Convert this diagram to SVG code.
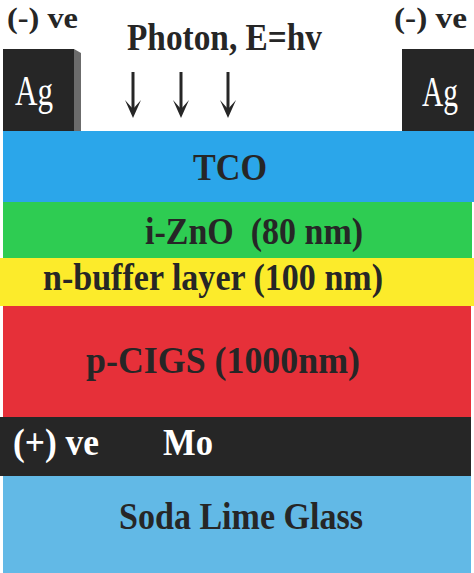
<svg xmlns="http://www.w3.org/2000/svg" width="474" height="573" viewBox="0 0 474 573">
<style>
.t{font-family:"Liberation Serif","Times New Roman",serif;font-weight:bold;font-size:38px;fill:#262626;white-space:pre}
.s{font-size:30px}
.w{fill:#ffffff}
.ag{font-family:"Liberation Serif","Times New Roman",serif;font-size:42px;fill:#ffffff}
.arr{stroke:#262626;stroke-width:3;fill:none}
.head{fill:#262626}
</style>
<rect width="474" height="573" fill="#ffffff"/>
<g id="glass"><rect x="3" y="476" width="468" height="97" fill="#62B9E6"/>
<text class="t" x="119" y="529" textLength="244" lengthAdjust="spacingAndGlyphs">Soda Lime Glass</text></g>
<g id="mo"><rect x="0" y="417" width="471" height="59" fill="#262626"/>
<text class="t w" x="13" y="455" textLength="86" lengthAdjust="spacingAndGlyphs">(+) ve</text>
<text class="t w" x="163" y="455" textLength="50" lengthAdjust="spacingAndGlyphs">Mo</text></g>
<g id="cigs"><rect x="3" y="306" width="468" height="111" fill="#E63039"/>
<text class="t" x="86" y="373" textLength="274" lengthAdjust="spacingAndGlyphs">p-CIGS (1000nm)</text></g>
<g id="buffer"><rect x="0" y="258" width="474" height="48" fill="#FCEB2B"/>
<text class="t" x="43" y="290" textLength="340" lengthAdjust="spacingAndGlyphs">n-buffer layer (100 nm)</text></g>
<g id="izno"><rect x="3" y="202" width="469" height="56" fill="#2ECC52"/>
<text class="t" x="145" y="244" textLength="218" lengthAdjust="spacingAndGlyphs">i-ZnO  (80 nm)</text></g>
<g id="tco"><rect x="3" y="131" width="471" height="71" fill="#2BA6EA"/>
<text class="t" x="193" y="180" textLength="74" lengthAdjust="spacingAndGlyphs">TCO</text></g>
<g id="ag-left"><polygon points="74,49 81,53 81,131 74,131" fill="#6B6B6B"/>
<rect x="3" y="49" width="71" height="82" fill="#262626"/>
<text class="ag" x="15" y="105" textLength="38" lengthAdjust="spacingAndGlyphs">Ag</text></g>
<g id="ag-right"><rect x="402" y="49" width="72" height="82" fill="#262626"/>
<text class="ag" x="422" y="106" textLength="36" lengthAdjust="spacingAndGlyphs">Ag</text></g>
<g id="labels">
<text class="t s" x="7" y="28" textLength="71" lengthAdjust="spacingAndGlyphs">(-) ve</text>
<text class="t s" x="394" y="28" textLength="73" lengthAdjust="spacingAndGlyphs">(-) ve</text>
<text class="t" x="127" y="50" textLength="195" lengthAdjust="spacingAndGlyphs">Photon, E=hv</text>
</g>
<g id="connectors">
<line class="arr" x1="133" y1="72" x2="133" y2="112"/>
<path class="head" d="M125,100 L133,118 L141,100 L133,109 Z"/>
<line class="arr" x1="181" y1="72" x2="181" y2="112"/>
<path class="head" d="M173,100 L181,118 L189,100 L181,109 Z"/>
<line class="arr" x1="228" y1="72" x2="228" y2="112"/>
<path class="head" d="M220,100 L228,118 L236,100 L228,109 Z"/>
</g>
</svg>
